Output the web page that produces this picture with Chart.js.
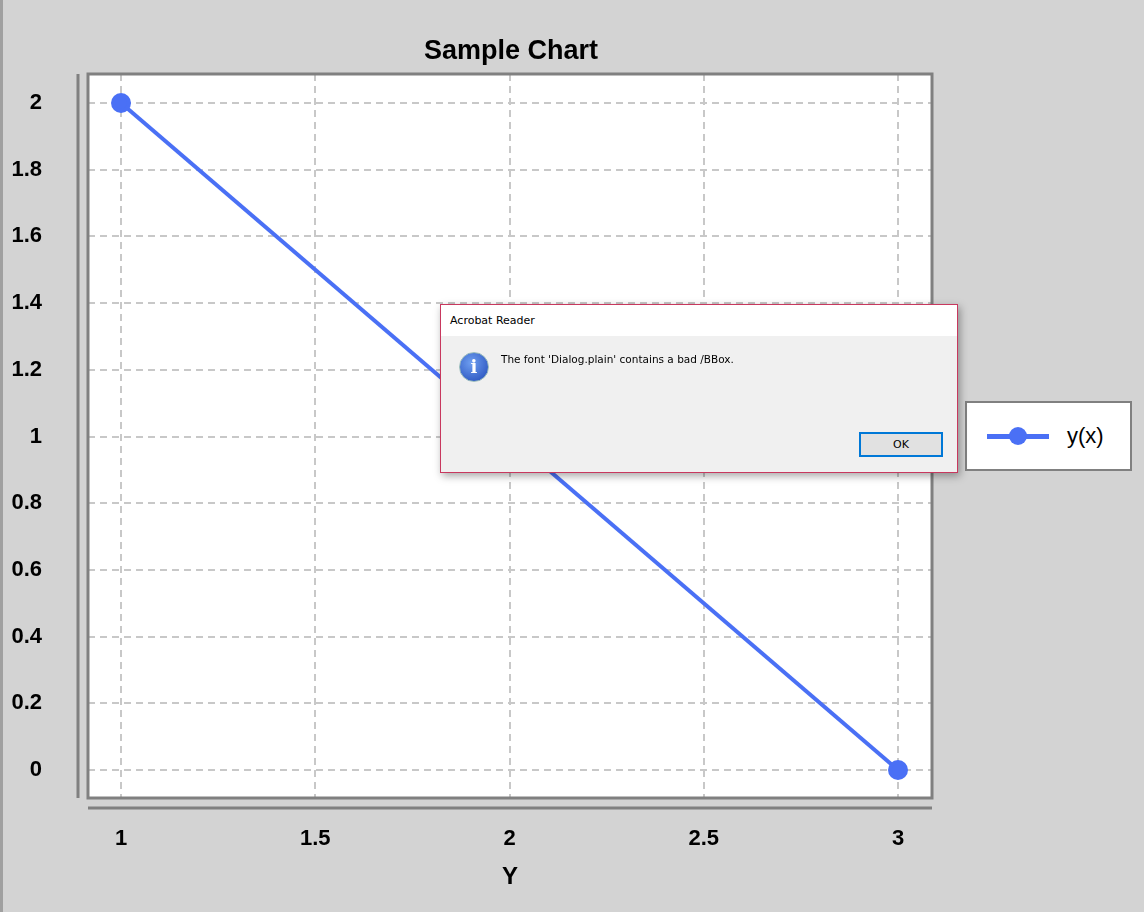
<!DOCTYPE html>
<html><head><meta charset="utf-8">
<script src="https://cdn.jsdelivr.net/npm/chart.js@4"></script>
<style>
body{margin:0;background:#d3d3d3;font-family:"Liberation Sans",Arial,sans-serif}
#wrap{position:relative;width:1144px;height:912px;border-left:3px solid #a0a0a0;box-sizing:border-box}
canvas{position:absolute;left:-3px;top:0}
#legend{position:absolute;left:962px;top:401px;width:163px;height:66px;background:#fff;border:2px solid #808080;}
#legend .ln{position:absolute;left:20px;top:31px;width:62px;height:5px;background:#4a70f5}
#legend .pt{position:absolute;left:42px;top:24px;width:18px;height:18px;border-radius:50%;background:#4a70f5}
#legend .tx{position:absolute;left:100px;top:20px;font-size:22px;color:#000}
#dlg{position:absolute;left:437px;top:304px;width:516px;height:167px;background:#f0f0f0;border:1px solid #c8385e;box-shadow:2px 3px 8px rgba(0,0,0,.35);font-family:"DejaVu Sans",sans-serif}
#dlg .bar{height:31px;background:#fff;font-size:11px;line-height:31px;padding-left:9px;color:#000}
#dlg .ic{position:absolute;left:18px;top:47px;width:28px;height:28px;border-radius:50%;background:radial-gradient(circle at 40% 35%,#6f9ff0,#1f48b8);border:1px solid #9bb;color:#fff;font:bold 18px "DejaVu Serif",serif;text-align:center;line-height:28px}
#dlg .msg{position:absolute;left:60px;top:48px;font-size:10.5px;color:#000}
#dlg .ok{position:absolute;left:418px;top:127px;width:80px;height:21px;border:2px solid #0078d7;background:#e1e1e1;font-size:11px;text-align:center;line-height:21px}
</style></head>
<body><div id="wrap">
<canvas id="c" width="1144" height="912"></canvas>
<div id="legend"><div class="ln"></div><div class="pt"></div><div class="tx">y(x)</div></div>
<div id="dlg"><div class="bar">Acrobat Reader</div><div class="ic">i</div>
<div class="msg">The font 'Dialog.plain' contains a bad /BBox.</div><div class="ok">OK</div></div>
</div>
<script>
const xValues = [1, 3];
const yValues = [2, 0];
const xTicks = [1, 1.5, 2, 2.5, 3];
const yTicks = [0, 0.2, 0.4, 0.6, 0.8, 1, 1.2, 1.4, 1.6, 1.8, 2];

const frame = {
  id: 'frame',
  beforeDraw(chart) {
    const {ctx, chartArea: a} = chart;
    ctx.save();
    ctx.fillStyle = '#fff';
    ctx.fillRect(a.left, a.top, a.right - a.left, a.bottom - a.top);
    ctx.restore();
  },
  afterDraw(chart) {
    const {ctx, chartArea: a} = chart;
    ctx.save();
    ctx.strokeStyle = '#808080';
    ctx.lineWidth = 3;
    ctx.strokeRect(a.left, a.top, a.right - a.left, a.bottom - a.top);
    ctx.beginPath();
    ctx.moveTo(a.left - 10, a.top); ctx.lineTo(a.left - 10, a.bottom);
    ctx.moveTo(a.left, a.bottom + 10); ctx.lineTo(a.right, a.bottom + 10);
    ctx.stroke();
    ctx.fillStyle = '#000';
    ctx.font = 'bold 27px "Liberation Sans", Arial, sans-serif';
    ctx.textAlign = 'center';
    ctx.textBaseline = 'middle';
    ctx.fillText('Sample Chart', 511, 52);
    ctx.restore();
  }
};

const tickFont = {family: '"Liberation Sans", Arial, sans-serif', size: 22, weight: 'bold'};
const grid = {color: '#c8c8c8', lineWidth: 2, drawTicks: false};
const fmt = v => String(Math.round(v * 10) / 10);

new Chart(document.getElementById('c'), {
  type: 'line',
  data: {
    datasets: [{
      label: 'y(x)',
      data: xValues.map((x, i) => ({x: x, y: yValues[i]})),
      borderColor: '#4a70f5',
      backgroundColor: '#4a70f5',
      borderWidth: 4,
      pointRadius: 8,
      pointHoverRadius: 8
    }]
  },
  options: {
    responsive: false,
    animation: false,
    layout: {padding: {top: 74, right: 212, left: 0, bottom: 0}},
    plugins: {legend: {display: false}, tooltip: {enabled: false}},
    scales: {
      x: {
        type: 'linear', min: 0.915, max: 3.0875,
        afterBuildTicks: s => { s.ticks = xTicks.map(v => ({value: v})); },
        afterFit: s => { s.height = 114; },
        grid: grid, border: {display: false, dash: [7, 5]},
        ticks: {font: tickFont, color: '#000', padding: 28, callback: fmt},
        title: {display: true, text: 'Y', font: {...tickFont, size: 24}, color: '#000', padding: {top: 0, bottom: 20}}
      },
      y: {
        type: 'linear', min: -0.084, max: 2.087,
        afterBuildTicks: s => { s.ticks = yTicks.map(v => ({value: v})); },
        afterFit: s => { s.width = 88; },
        grid: grid, border: {display: false, dash: [7, 5]},
        ticks: {font: tickFont, color: '#000', padding: 46, callback: fmt}
      }
    }
  },
  plugins: [frame]
});
</script>
</body></html>
